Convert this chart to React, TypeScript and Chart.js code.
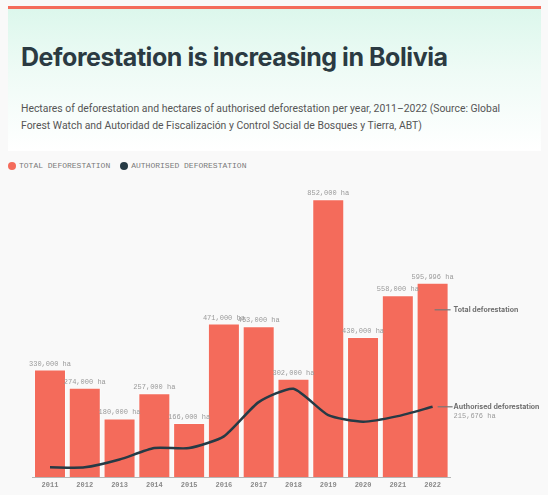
import React, { useEffect, useRef } from "react";
import { Chart, registerables } from "chart.js";

Chart.register(...registerables);

// Hectares per year, 2011–2022
const years = ["2011", "2012", "2013", "2014", "2015", "2016", "2017", "2018", "2019", "2020", "2021", "2022"];
const totalDeforestation = [330000, 274000, 180000, 257000, 166000, 471000, 463000, 302000, 852000, 430000, 558000, 595996];
const authorisedDeforestation = [30000, 30000, 54000, 89000, 89000, 125000, 230000, 271000, 190000, 170000, 187000, 215676];

const CORAL = "#f46b5b";
const SLATE = "#263a45";
const MONO = "'Liberation Mono', 'DejaVu Sans Mono', monospace";
const SANS = "Inter, 'Open Sans', Roboto, sans-serif";

const fmtHa = (v: number) => v.toLocaleString("en-US") + " ha";

const labelsPlugin = {
  id: "barValueLabels",
  afterDatasetsDraw(chart: any) {
    const ctx = chart.ctx as CanvasRenderingContext2D;
    const barMeta = chart.getDatasetMeta(0);
    const lineMeta = chart.getDatasetMeta(1);
    ctx.save();
    // value labels above each bar
    ctx.font = `7px ${MONO}`;
    ctx.fillStyle = "#9a9a9a";
    ctx.textAlign = "center";
    ctx.textBaseline = "alphabetic";
    barMeta.data.forEach((bar: any, i: number) => {
      ctx.fillText(fmtHa(totalDeforestation[i]), bar.x, bar.y - 4);
    });

    // end-of-series annotations
    const lastBar = barMeta.data[barMeta.data.length - 1];
    const lastPt = lineMeta.data[lineMeta.data.length - 1];
    const textX = lastBar.x + 21;
    ctx.strokeStyle = "#777";
    ctx.lineWidth = 1.2;

    const totalY = lastBar.y + 27;
    ctx.beginPath();
    ctx.moveTo(lastBar.x + 2, totalY);
    ctx.lineTo(lastBar.x + 18, totalY);
    ctx.stroke();

    ctx.beginPath();
    ctx.moveTo(lastPt.x + 5, lastPt.y);
    ctx.lineTo(lastPt.x + 20, lastPt.y);
    ctx.stroke();

    ctx.textAlign = "left";
    ctx.textBaseline = "middle";
    ctx.fillStyle = "#6f6f6f";
    ctx.font = `bold 7px ${SANS}`;
    ctx.fillText("Total deforestation", textX, totalY);
    ctx.fillText("Authorised deforestation", textX, lastPt.y);
    ctx.font = `7px ${MONO}`;
    ctx.fillStyle = "#9a9a9a";
    ctx.fillText(fmtHa(authorisedDeforestation[authorisedDeforestation.length - 1]), textX, lastPt.y + 9);
    ctx.restore();
  },
};

function DeforestationChart() {
  const ref = useRef<HTMLCanvasElement | null>(null);
  useEffect(() => {
    if (!ref.current) return;
    const chart = new Chart(ref.current, {
      type: "bar",
      data: {
        labels: years,
        datasets: [
          {
            type: "bar",
            label: "Total deforestation",
            data: totalDeforestation,
            backgroundColor: CORAL,
            borderColor: "rgba(255,255,255,0.55)",
            borderWidth: 1,
            barPercentage: 0.92,
            categoryPercentage: 1,
            order: 2,
          },
          {
            type: "line",
            label: "Authorised deforestation",
            data: authorisedDeforestation,
            borderColor: SLATE,
            borderWidth: 2.5,
            pointRadius: 0,
            tension: 0.2,
            fill: false,
            order: 1,
          },
        ],
      } as any,
      options: {
        responsive: false,
        animation: false,
        devicePixelRatio: 1,
        layout: { padding: { left: 32.6, right: 98, top: 25.7, bottom: 1.5 } },
        plugins: { legend: { display: false }, tooltip: { enabled: false } },
        scales: {
          x: {
            grid: { display: false, drawTicks: false },
            border: { display: true, color: "#b5b5b5", width: 1 },
            ticks: {
              autoSkip: false,
              maxRotation: 0,
              padding: 4,
              color: "#8a8a8a",
              font: { family: MONO, size: 7, weight: "bold" },
            },
          },
          y: { display: false, min: 0, max: 900000 },
        },
      } as any,
      plugins: [labelsPlugin],
    });
    return () => chart.destroy();
  }, []);
  return <canvas ref={ref} width={548} height={337} style={{ position: "absolute", left: 0, top: 158 }} />;
}

export default function App() {
  return (
    <div
      style={{
        position: "fixed",
        left: 0,
        top: 0,
        width: 548,
        height: 495,
        background: "#f9f9f9",
        overflow: "hidden",
      }}
    >
      <div
        style={{
          position: "absolute",
          left: 8,
          top: 6,
          width: 533,
          height: 142,
          borderTop: `3px solid ${CORAL}`,
          background: "linear-gradient(180deg, #dcf7ec 0%, #effbf6 45%, #ffffff 100%)",
        }}
      >
        <div
          style={{
            position: "absolute",
            left: 13,
            top: 33,
            fontFamily: SANS,
            fontWeight: 700,
            fontSize: 25,
            letterSpacing: -0.45,
            color: "#2b3a42",
            whiteSpace: "nowrap",
          }}
        >
          Deforestation is increasing in Bolivia
        </div>
        <div
          style={{
            position: "absolute",
            left: 13,
            top: 91,
            width: 500,
            fontFamily: "Roboto, 'Noto Sans', sans-serif",
            fontSize: 10.4,
            lineHeight: "17px",
            color: "#555",
          }}
        >
          Hectares of deforestation and hectares of authorised deforestation per year, 2011–2022 (Source: Global
          Forest Watch and Autoridad de Fiscalización y Control Social de Bosques y Tierra, ABT)
        </div>
      </div>
      <div
        style={{
          position: "absolute",
          left: 8,
          top: 161,
          display: "flex",
          alignItems: "center",
          fontFamily: MONO,
          fontSize: 8,
          color: "#7a7a7a",
          whiteSpace: "nowrap",
        }}
      >
        <span style={{ width: 8, height: 8, borderRadius: 4, background: CORAL, display: "inline-block", marginRight: 3 }} />
        <span>TOTAL DEFORESTATION</span>
        <span
          style={{ width: 8, height: 8, borderRadius: 4, background: SLATE, display: "inline-block", marginLeft: 10, marginRight: 3 }}
        />
        <span>AUTHORISED DEFORESTATION</span>
      </div>
      <DeforestationChart />
    </div>
  );
}
